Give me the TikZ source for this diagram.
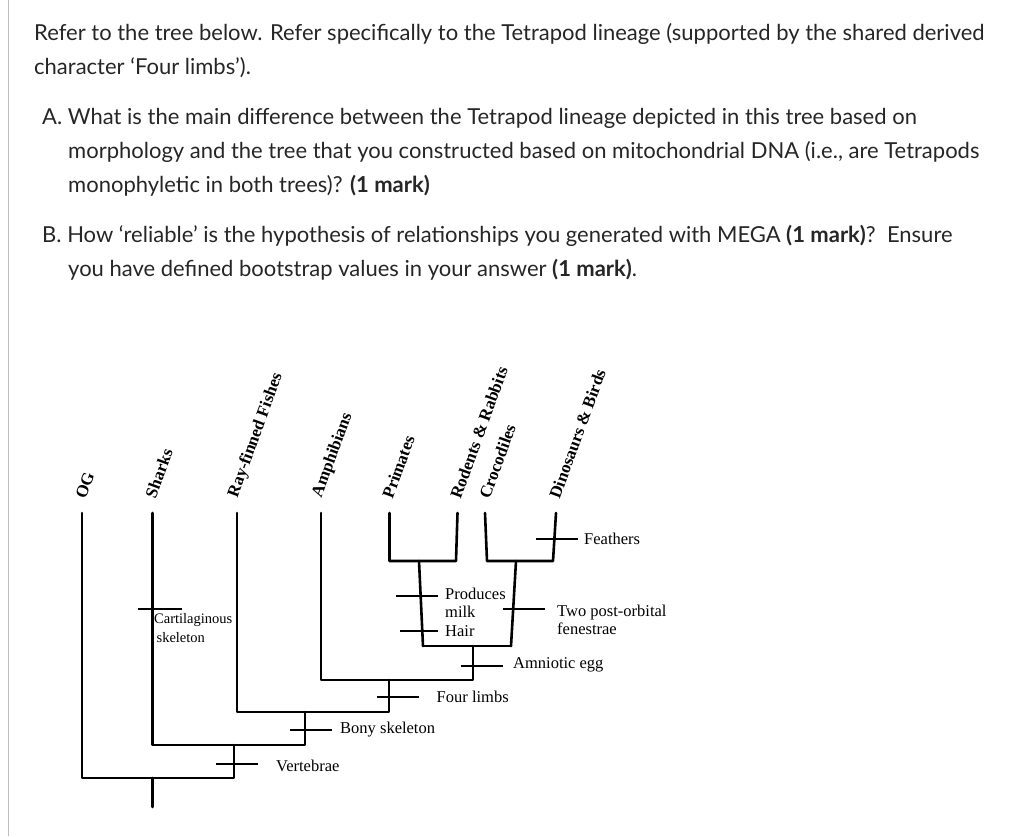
\documentclass[tikz,border=0pt]{standalone}
\usepackage{fontspec}
\setmainfont{Lato}
\newfontfamily\treefont{Liberation Serif}
\tikzset{br/.style={line width=2.6pt,line cap=round,line join=round},
 tk/.style={line width=1.6pt},
 tx/.style={font=\treefont\fontsize{16.5}{18}\selectfont,anchor=west,inner sep=0pt},
 tx2/.style={font=\treefont\fontsize{16.5}{18.5}\selectfont,anchor=west,inner sep=0pt,align=left},
 tx3/.style={font=\treefont\fontsize{14.5}{18.5}\selectfont,anchor=west,inner sep=0pt,align=left},
 tax/.style={font=\treefont\bfseries\fontsize{17}{18}\selectfont,rotate=70,anchor=south west,inner sep=0pt},
 q/.style={font=\fontsize{22}{34}\selectfont,anchor=base west,inner sep=0pt,text=black!85}}
\begin{document}
\begin{tikzpicture}[x=1pt,y=-1pt]
\useasboundingbox (0,0) rectangle (1024,836);
\draw[black!25,line width=1pt] (8,0) -- (8,836);
\node[q] (l1) at (34,40) {Refer to the tree below. Refer specifically to the Tetrapod lineage (supported by the shared derived};
\node[q] (l2) at (34,74) {character ‘Four limbs’).};
\node[q] (l3) at (42,124) {A. What is the main difference between the Tetrapod lineage depicted in this tree based on};
\node[q] (l4) at (68,158) {morphology and the tree that you constructed based on mitochondrial DNA (i.e., are Tetrapods};
\node[q] (l5) at (68,192) {monophyletic in both trees)? \textbf{(1 mark)}};
\node[q] (l6) at (42,242) {B. How ‘reliable’ is the hypothesis of relationships you generated with MEGA \textbf{(1 mark)}?\, Ensure};
\node[q] (l7) at (68,276) {you have defined bootstrap values in your answer \textbf{(1 mark)}.};
% taxa labels
\node[tax] (tOG) at (86,500) {OG};
\node[tax] (tSh) at (156,500) {Sharks};
\node[tax] (tRF) at (241,500) {Ray-finned Fishes};
\node[tax] (tAm) at (325,500) {Amphibians};
\node[tax] (tPr) at (393,500) {Primates};
\node[tax] (tRo) at (461,500) {Rodents \& Rabbits};
\node[tax] (tCr) at (490,500) {Crocodiles};
\node[tax] (tDi) at (560,500) {Dinosaurs \& Birds};
% branches
\draw[br] (82,513) -- (82,778) -- (234,778) -- (234,745);
\draw[br] (152.5,778) -- (152.5,807);
\draw[br] (152.5,513) -- (152.5,745) -- (305,745) -- (305,712);
\draw[br] (237,513) -- (237,712) -- (389,712) -- (389,680);
\draw[br] (321,513) -- (321,680) -- (473,680) -- (473,646);
\draw[br] (423,646) -- (511,646);
\draw[br] (423,646) -- (419,561);
\draw[br] (511,646) -- (516,561);
\draw[br] (389.5,513) -- (389.5,561) -- (456,561) -- (457.5,513);
\draw[br] (485,513) -- (487,561) -- (553,561) -- (556,513);
% ticks
\draw[tk] (216,764) -- (258,764);
\draw[tk] (138,609) -- (182,609);
\draw[tk] (290,730) -- (332,730);
\draw[tk] (376.5,697) -- (418.6,697);
\draw[tk] (460.6,666) -- (502.7,666);
\draw[tk] (396,596) -- (437.7,596);
\draw[tk] (400,631) -- (437.7,631);
\draw[tk] (503,609) -- (545,609);
\draw[tk] (536,539) -- (578,539);
% character labels
\node[tx] (cV) at (276,766) {Vertebrae};
\node[tx3] (cC) at (154,628) {Cartilaginous\\\,skeleton};
\node[tx] (cB) at (340,730) {Bony skeleton};
\node[tx] (cF) at (436.5,697) {Four limbs};
\node[tx] (cA) at (513,665) {Amniotic egg};
\node[tx2] (cP) at (445,612) {Produces\\milk\\Hair};
\node[tx2] (cT) at (557,620) {Two post-orbital\\fenestrae};
\node[tx] (cFe) at (584,539) {Feathers};
\end{tikzpicture}
\end{document}
